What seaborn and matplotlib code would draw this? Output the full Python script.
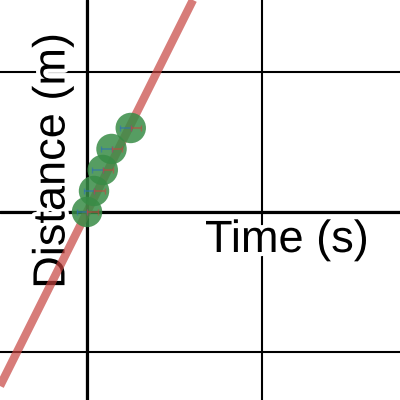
import matplotlib
matplotlib.use('Agg')
import matplotlib.pyplot as plt
import matplotlib.patheffects as pe
import pandas as pd
import seaborn as sns

# measured points (time, distance)
time_s = [0.0, 0.2, 0.45, 0.7, 1.25]
distance_m = [0.0, 1.5, 3.0, 4.5, 6.0]
err_left = [0.3, 0.3, 0.3, 0.3, 0.3]
err_right = [0.3, 0.3, 0.3, 0.3, 0.3]

# fitted line
fit_slope = 5.0
fit_intercept = 0.0

# grid
x_grid = [0, 5]
y_grid = [-10, 0, 10]

df = pd.DataFrame({'Time': time_s, 'Distance': distance_m})

sns.set_style('white')
plt.rcParams['font.family'] = ['Liberation Sans', 'DejaVu Sans']

fig = plt.figure(figsize=(4, 4), dpi=100)
ax = fig.add_axes([0, 0, 1, 1])

ax.set_xlim(-2.486, 8.943)
ax.set_ylim(-13.43, 15.14)
ax.set_xticks(x_grid)
ax.set_yticks(y_grid)
ax.set_xticklabels([])
ax.set_yticklabels([])
ax.tick_params(length=0)
ax.grid(True, color='black', linewidth=1.5, zorder=0)
ax.set_axisbelow(True)
for sp in ax.spines.values():
    sp.set_visible(False)

# axes
ax.axhline(0, color='black', linewidth=2.3, zorder=1)
ax.axvline(0, color='black', linewidth=2.3, zorder=1)

# labels with white halo
halo = [pe.withStroke(linewidth=6, foreground='white')]
ax.text(0.5125, 0.37, 'Time (s)', transform=ax.transAxes, fontsize=32.5,
        color='black', ha='left', va='baseline', zorder=2, path_effects=halo)
ax.text(0.1325, 0.5975, 'Distance (m)', transform=ax.transAxes, fontsize=32.5,
        color='black', rotation=90, ha='center', va='center', zorder=2,
        path_effects=halo)

# fit line
ax.axline((0, fit_intercept), slope=fit_slope, color='#c74440', alpha=0.7,
          linewidth=6, zorder=3, solid_capstyle='butt')

# points
sns.scatterplot(data=df, x='Time', y='Distance', ax=ax, s=480, color='#388c46',
                alpha=0.85, edgecolor='none', zorder=4, legend=False)

# error bars
ax.errorbar(time_s, distance_m, xerr=[err_left, [0] * len(time_s)], fmt='none',
            ecolor='#2d70b3', elinewidth=1.2, capsize=2, alpha=0.6, zorder=5)
ax.errorbar(time_s, distance_m, xerr=[[0] * len(time_s), err_right], fmt='none',
            ecolor='#c74440', elinewidth=1.2, capsize=2, alpha=0.6, zorder=5)

ax.set_xlabel('')
ax.set_ylabel('')

fig.savefig('out.png', dpi=100)
